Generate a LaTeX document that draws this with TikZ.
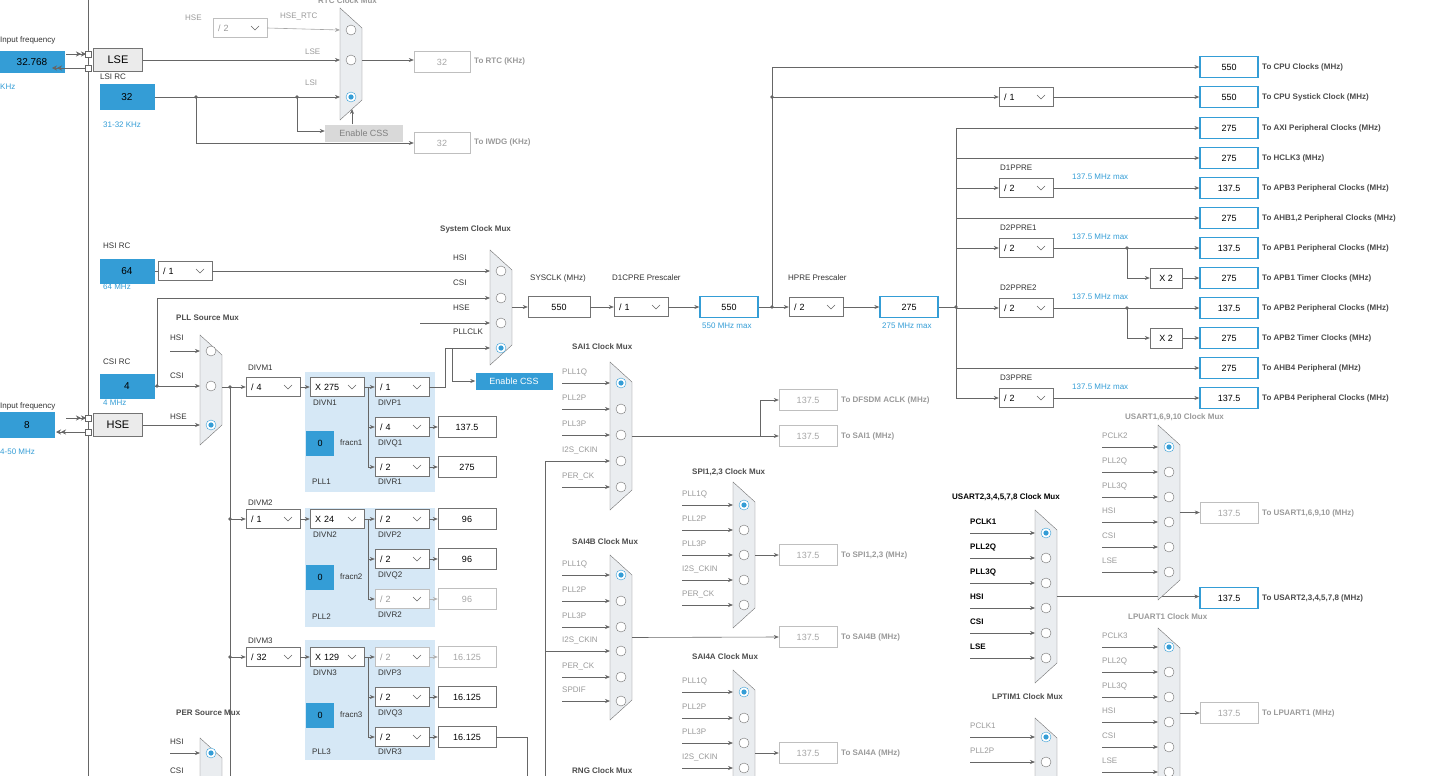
\documentclass[tikz,border=0pt]{standalone}
\usepackage{fontspec}
\setmainfont{Liberation Sans}
\usetikzlibrary{arrows.meta,calc}
\definecolor{stblue}{RGB}{52,157,214}
\definecolor{muxgray}{RGB}{234,237,240}
\definecolor{pllbg}{RGB}{214,232,246}

\tikzset{
  lbl/.style={font=\fontsize{8}{9}\selectfont, inner sep=0pt, anchor=west, text=black!80},
  blbl/.style={lbl, font=\bfseries\fontsize{8}{9}\selectfont, text=black!70},
  dis/.style={text=black!40},
  bltxt/.style={text=stblue},
  val/.style={draw=black!55, fill=white, minimum width=58pt, minimum height=21pt, inner sep=0pt, font=\fontsize{9}{10}\selectfont},
  outv/.style={val, draw=stblue, line width=1.3pt},
  disv/.style={val, draw=black!25, text=black!35},
  inp/.style={fill=stblue, minimum width=55pt, minimum height=25pt, inner sep=0pt, font=\fontsize{10}{11}\selectfont},
  dd/.style={draw=black!55, fill=white, minimum width=54pt, minimum height=19pt, inner sep=0pt, text width=44pt, align=left, font=\fontsize{9}{10}\selectfont,
    path picture={\draw[black!60] ([xshift=-16pt,yshift=2pt]path picture bounding box.east) -- ++(4pt,-4pt) -- ++(4pt,4pt);}},
  ddis/.style={dd, draw=black!25, text=black!40},
  ln/.style={draw=black!60, line width=0.6pt},
  w/.style={ln, -{Stealth[length=5pt,width=4pt]}},
  fr/.style={fill=stblue, minimum width=28pt, minimum height=25pt, inner sep=0pt, font=\fontsize{9}{10}\selectfont},
}

% clock mux: name, x, top, bottom, circle ys, selected
\newcommand\clkmux[6]{%
  \draw[draw=black!55, fill=muxgray] (#2,#3) -- (#2+22,#3+20) -- (#2+22,#4-20) -- (#2,#4) -- cycle;
  \foreach \cy [count=\ci] in {#5}{
    \coordinate (#1-\ci) at (#2,\cy);
    \ifnum\ci=#6
      \draw[stblue, fill=white] (#2+11,\cy) circle (5pt);
      \fill[stblue] (#2+11,\cy) circle (2.6pt);
    \else
      \draw[black!55, fill=white] (#2+11,\cy) circle (5pt);
    \fi}
  \coordinate (#1-out) at (#2+22,{(#3+#4)/2});
}
% mux input: mux, index, offset, label, label style
\newcommand\muxin[5]{%
  \draw[w] ($(#1-#2)+(#3,0)$) -- (#1-#2);
  \node[lbl,#5] at ($(#1-#2)+(#3,-11)$) {#4};
}

\begin{document}
\begin{tikzpicture}[x=1pt,y=-1pt]
\useasboundingbox (0,0) rectangle (1441,776);

\draw[ln] (88,0) -- (88,776);

% LSE / LSI
\node[lbl] at (0,40) {Input frequency};
\node[inp, minimum width=65pt, minimum height=22pt] (lsein) at (32,62) {32.768};
\node[lbl,bltxt] at (0,87) {KHz};
\draw[ln,-{Stealth[length=5pt,width=5pt]Stealth[length=5pt,width=5pt]}] (66,54) -- (86,54);
\draw[ln,-{Stealth[length=5pt,width=5pt]Stealth[length=5pt,width=5pt]}] (85,68) -- (52,68);
\draw[black!60, fill=white] (85,51) rectangle (91,57) (85,65) rectangle (91,71);
\node[val, fill=black!8, minimum width=49pt, minimum height=23pt, font=\fontsize{11}{12}\selectfont] (lse) at (118,60) {LSE};
\node[lbl] at (100,77) {LSI RC};
\node[inp, minimum height=26pt] (lsi) at (127,97) {32};
\node[lbl,bltxt] at (103,125) {31-32 KHz};

% RTC mux
\clkmux{rtc}{340}{8}{120}{30,60,97}{3}
\node[blbl, dis] at (318,1) {RTC Clock Mux};
\node[lbl,dis] at (185,18) {HSE};
\node[ddis] (hsertc) at (240,28) {/ 2};
\node[lbl,dis] at (280,17) {HSE\_RTC};
\draw[w, draw=black!35] (hsertc.east) -- (rtc-1);
\draw[w] (lse.east) -- (rtc-2);
\node[lbl,dis] at (305,52) {LSE};
\draw[w] (lsi.east) -- (rtc-3);
\node[lbl,dis] at (305,83) {LSI};
\node[fill=black!15, text=black!50, minimum width=78pt, minimum height=17pt, inner sep=0pt, font=\fontsize{9}{10}\selectfont] (ecssa) at (364,133) {Enable CSS};
\draw[w] (ecssa.north -| 352,0) -- (352,109);
\coordinate (lsij) at (297,97);
\draw[w] (lsij) -- (297,131) -- (ecssa.west |- 0,131);
\fill[black!60] (lsij) circle (1.8pt) (196,97) circle (1.8pt);
\coordinate (rtco) at (362,60);
\node[disv, minimum width=56pt] (rtcv) at (442,62) {32};
\draw[w] (rtco) -- (rtcv.west |- rtco);
\node[blbl,dis] at (474,61) {To RTC (KHz)};
\node[disv, minimum width=56pt] (iwdgv) at (442,143) {32};
\draw[w] (196,97) -- (196,143) -- (iwdgv.west);
\node[blbl,dis] at (474,142) {To IWDG (KHz)};

% HSE / HSI / CSI
\node[lbl] at (0,406) {Input frequency};
\node[inp, minimum height=26pt] (hsein) at (27,425) {8};
\node[lbl,bltxt] at (0,452) {4-50 MHz};
\draw[ln,-{Stealth[length=5pt,width=5pt]Stealth[length=5pt,width=5pt]}] (66,418) -- (86,418);
\draw[ln,-{Stealth[length=5pt,width=5pt]Stealth[length=5pt,width=5pt]}] (85,432) -- (56,432);
\draw[black!60, fill=white] (85,415) rectangle (91,421) (85,429) rectangle (91,435);
\node[val, fill=black!8, minimum width=49pt, minimum height=23pt, font=\fontsize{11}{12}\selectfont] (hse) at (118,425) {HSE};
\node[lbl] at (103,246) {HSI RC};
\node[inp] (hsi) at (127,271) {64};
\node[lbl,bltxt] at (103,287) {64 MHz};
\node[dd] (hsidiv) at (185,271) {/ 1};
\draw[ln] (hsi.east) -- (hsidiv.west);
\node[lbl] at (103,362) {CSI RC};
\node[inp] (csi) at (127,386) {4};
\node[lbl,bltxt] at (103,403) {4 MHz};

% PLL source mux
\clkmux{pllsrc}{200}{335}{445}{351,386,425}{3}
\node[blbl] at (176,318) {PLL Source Mux};
\draw[w] (170,351) -- (pllsrc-1); \node[lbl] at (170,338) {HSI};
\draw[w] (csi.east) -- (pllsrc-2); \node[lbl] at (170,376) {CSI};
\draw[w] (hse.east) -- (pllsrc-3); \node[lbl] at (170,417) {HSE};

% System clock mux
\clkmux{sys}{490}{250}{365}{271,298,323,348}{4}
\node[blbl] at (440,229) {System Clock Mux};
\draw[w] (hsidiv.east) -- (sys-1); \node[lbl] at (453,258) {HSI};
\draw[w] (157,386) -- (157,298) -- (sys-2); \node[lbl] at (453,283) {CSI};
\draw[w] (420,323) -- (sys-3); \node[lbl] at (453,308) {HSE};
\node[lbl] at (453,332) {PLLCLK};
\fill[black!60] (157,386) circle (1.8pt);

% PLL dividers
\node[dd] (divm1) at (273,387) {/ 4}; \node[lbl] at (248,368) {DIVM1};
\node[dd] (divm2) at (273,519) {/ 1}; \node[lbl] at (248,503) {DIVM2};
\node[dd] (divm3) at (273,657) {/ 32}; \node[lbl] at (248,641) {DIVM3};
\draw[w] (pllsrc-out |- divm1) -- (divm1.west);
\draw[ln] (230,387) -- (230,776);
\draw[w] (230,519) -- (divm2.west);
\draw[w] (230,657) -- (divm3.west);
\fill[black!60] (230,387) circle (1.8pt) (230,519) circle (1.8pt) (230,657) circle (1.8pt);

% PLL1
\fill[pllbg] (305,372) rectangle (435,492);
\node[dd] (divn1) at (337,387) {X 275}; \node[lbl] at (313,403) {DIVN1};
\node[dd] (divp1) at (402,387) {/ 1}; \node[lbl] at (378,403) {DIVP1};
\node[dd] (divq1) at (402,427) {/ 4}; \node[lbl] at (378,443) {DIVQ1};
\node[dd] (divr1) at (402,467) {/ 2}; \node[lbl] at (378,482) {DIVR1};
\node[fr] at (320,443) {0}; \node[lbl] at (340,443) {fracn1};
\node[lbl] at (312,482) {PLL1};
\node[val] (q1v) at (467,427) {137.5};
\node[val] (r1v) at (467,467) {275};
\draw[w] (divm1.east) -- (divn1.west);
\draw[w] (divn1.east) -- (divp1.west);
\draw[w] (368,387) -- (368,427) -- (divq1.west);
\draw[w] (368,427) -- (368,467) -- (divr1.west);
\draw[w] (divq1.east) -- (q1v.west);
\draw[w] (divr1.east) -- (r1v.west);
\draw[w] (divp1.east) -- (445,387) -- (445,348) -- (sys-4);
\node[fill=stblue, text=white, minimum width=77pt, minimum height=17pt, inner sep=0pt, font=\fontsize{9}{10}\selectfont] (ecssb) at (514,381) {Enable CSS};
\draw[w] (452,348) -- (452,381) -- (ecssb.west);

% PLL2
\fill[pllbg] (305,508) rectangle (435,627);
\node[dd] (divn2) at (337,519) {X 24}; \node[lbl] at (313,535) {DIVN2};
\node[dd] (divp2) at (402,519) {/ 2}; \node[lbl] at (378,535) {DIVP2};
\node[dd] (divq2) at (402,559) {/ 2}; \node[lbl] at (378,575) {DIVQ2};
\node[ddis] (divr2) at (402,599) {/ 2}; \node[lbl] at (378,615) {DIVR2};
\node[fr] at (320,577) {0}; \node[lbl] at (340,577) {fracn2};
\node[lbl] at (312,617) {PLL2};
\node[val] (p2v) at (467,519) {96};
\node[val] (q2v) at (467,559) {96};
\node[disv] (r2v) at (467,599) {96};
\draw[w] (divm2.east) -- (divn2.west);
\draw[w] (divn2.east) -- (divp2.west);
\draw[w] (368,519) -- (368,559) -- (divq2.west);
\draw[w] (368,559) -- (368,599) -- (divr2.west);
\draw[w] (divp2.east) -- (p2v.west);
\draw[w] (divq2.east) -- (q2v.west);
\draw[w, draw=black!30] (divr2.east) -- (r2v.west);

% PLL3
\fill[pllbg] (305,640) rectangle (435,760);
\node[dd] (divn3) at (337,657) {X 129}; \node[lbl] at (313,673) {DIVN3};
\node[ddis] (divp3) at (402,657) {/ 2}; \node[lbl] at (378,673) {DIVP3};
\node[dd] (divq3) at (402,697) {/ 2}; \node[lbl] at (378,713) {DIVQ3};
\node[dd] (divr3) at (402,737) {/ 2}; \node[lbl] at (378,752) {DIVR3};
\node[fr] at (320,715) {0}; \node[lbl] at (340,715) {fracn3};
\node[lbl] at (312,752) {PLL3};
\node[disv] (p3v) at (467,657) {16.125};
\node[val] (q3v) at (467,697) {16.125};
\node[val] (r3v) at (467,737) {16.125};
\draw[w] (divm3.east) -- (divn3.west);
\draw[w] (divn3.east) -- (divp3.west);
\draw[w] (368,657) -- (368,697) -- (divq3.west);
\draw[w] (368,697) -- (368,737) -- (divr3.west);
\draw[w, draw=black!30] (divp3.east) -- (p3v.west);
\draw[w] (divq3.east) -- (q3v.west);
\draw[w] (divr3.east) -- (r3v.west);
\draw[ln] (r3v.east) -- (527,737) -- (527,776);

% PER source mux
\clkmux{persrc}{200}{738}{860}{753,782}{1}
\node[blbl] at (176,713) {PER Source Mux};
\muxin{persrc}{1}{-30}{HSI}{}
\muxin{persrc}{2}{-30}{CSI}{}

% system clock path
\node[val, minimum width=62pt] (sysclk) at (559,307) {550};
\node[lbl] at (530,278) {SYSCLK (MHz)};
\node[dd] (d1cpre) at (641,307) {/ 1};
\node[lbl] at (612,278) {D1CPRE Prescaler};
\node[outv] (cpuv) at (729,307) {550};
\node[lbl,bltxt] at (702,326) {550 MHz max};
\node[dd] (hpre) at (816,307) {/ 2};
\node[lbl] at (788,278) {HPRE Prescaler};
\node[outv] (hclkv) at (909,307) {275};
\node[lbl,bltxt] at (882,326) {275 MHz max};
\draw[w] (sys-out |- sysclk) -- (sysclk.west);
\draw[w] (sysclk.east) -- (d1cpre.west);
\draw[w] (d1cpre.east) -- (cpuv.west);
\draw[w] (cpuv.east) -- (hpre.west);
\draw[w] (hpre.east) -- (hclkv.west);

% right outputs
\foreach \y/\v/\t in {67/550/{To CPU Clocks (MHz)}, 97/550/{To CPU Systick Clock (MHz)},
  128/275/{To AXI Peripheral Clocks (MHz)}, 158/275/{To HCLK3 (MHz)},
  188/137.5/{To APB3 Peripheral Clocks (MHz)}, 218/275/{To AHB1,2 Peripheral Clocks (MHz)},
  248/137.5/{To APB1 Peripheral Clocks (MHz)}, 278/275/{To APB1 Timer Clocks (MHz)},
  308/137.5/{To APB2 Peripheral Clocks (MHz)}, 338/275/{To APB2 Timer Clocks (MHz)},
  368/275/{To AHB4 Peripheral (MHz)}, 398/137.5/{To APB4 Peripheral Clocks (MHz)}}{
  \node[outv] (o\y) at (1229,\y) {\v};
  \node[blbl] at (1262,\y) {\t};
}
\foreach \y/\d/\n in {97/1/{}, 188/2/D1PPRE, 248/2/D2PPRE1, 308/2/D2PPRE2, 398/2/D3PPRE}{
  \node[dd] (p\y) at (1026,\y) {/ \d};
  \node[lbl] at (1000,\y-20) {\n};
  \draw[w] (p\y.east) -- (o\y.west);
}
\foreach \y in {188,248,308,398}
  \node[lbl,bltxt] at (1072,\y-11) {137.5 MHz max};
\draw[ln] (hclkv.east) -- (956,307);
\draw[ln] (772,307) -- (772,67);
\draw[w] (772,67) -- (o67.west);
\draw[w] (772,97) -- (p97.west);
\fill[black!60] (772,307) circle (1.8pt) (772,97) circle (1.8pt) (956,307) circle (1.8pt);
\draw[ln] (956,128) -- (956,398);
\foreach \y in {128,158,218,368}
  \draw[w] (956,\y) -- (o\y.west);
\foreach \y in {188,248,308,398}
  \draw[w] (956,\y) -- (p\y.west);
\node[val, minimum width=32pt, minimum height=20pt] (x2a) at (1166,278) {X 2};
\node[val, minimum width=32pt, minimum height=20pt] (x2b) at (1166,338) {X 2};
\draw[w] (1127,248) -- (1127,278) -- (x2a.west);
\draw[w] (1127,308) -- (1127,338) -- (x2b.west);
\draw[w] (x2a.east) -- (o278.west);
\draw[w] (x2b.east) -- (o338.west);
\fill[black!60] (1127,248) circle (1.8pt) (1127,308) circle (1.8pt);

% SAI1
\clkmux{saia}{610}{362}{510}{383,409,435,461,487}{1}
\node[blbl] at (572,347) {SAI1 Clock Mux};
\muxin{saia}{1}{-48}{PLL1Q}{dis}
\muxin{saia}{2}{-48}{PLL2P}{dis}
\muxin{saia}{3}{-48}{PLL3P}{dis}
\muxin{saia}{4}{-48}{I2S\_CKIN}{dis}
\muxin{saia}{5}{-48}{PER\_CK}{dis}
\node[disv] (dfsdm) at (808,400) {137.5};
\node[disv] (sai1v) at (808,436) {137.5};
\draw[ln] (saia-out) -- (760,436) -- (760,400);
\draw[w] (760,400) -- (dfsdm.west);
\draw[w] (760,436) -- (sai1v.west);
\node[blbl,dis] at (841,400) {To DFSDM ACLK (MHz)};
\node[blbl,dis] at (841,436) {To SAI1 (MHz)};
\draw[ln] (545,461) -- (545,776) (545,461) -- (562,461) (545,651) -- (562,651);

% SPI
\clkmux{spi}{733}{482}{628}{505,530,555,580,605}{1}
\node[blbl] at (692,472) {SPI1,2,3 Clock Mux};
\muxin{spi}{1}{-51}{PLL1Q}{dis}
\muxin{spi}{2}{-51}{PLL2P}{dis}
\muxin{spi}{3}{-51}{PLL3P}{dis}
\muxin{spi}{4}{-51}{I2S\_CKIN}{dis}
\muxin{spi}{5}{-51}{PER\_CK}{dis}
\node[disv] (spiv) at (808,555) {137.5};
\draw[w] (spi-out) -- (spiv.west);
\node[blbl,dis] at (841,555) {To SPI1,2,3 (MHz)};

% SAI4B
\clkmux{saib}{610}{555}{720}{575,601,627,651,677,701}{1}
\node[blbl] at (572,542) {SAI4B Clock Mux};
\muxin{saib}{1}{-48}{PLL1Q}{dis}
\muxin{saib}{2}{-48}{PLL2P}{dis}
\muxin{saib}{3}{-48}{PLL3P}{dis}
\muxin{saib}{4}{-48}{I2S\_CKIN}{dis}
\muxin{saib}{5}{-48}{PER\_CK}{dis}
\muxin{saib}{6}{-48}{SPDIF}{dis}
\node[disv] (sai4bv) at (808,637) {137.5};
\draw[w] (saib-out) -- (sai4bv.west);
\node[blbl,dis] at (841,637) {To SAI4B (MHz)};

% SAI4A
\clkmux{saic}{733}{670}{836}{692,718,743,768}{1}
\node[blbl] at (692,657) {SAI4A Clock Mux};
\muxin{saic}{1}{-51}{PLL1Q}{dis}
\muxin{saic}{2}{-51}{PLL2P}{dis}
\muxin{saic}{3}{-51}{PLL3P}{dis}
\muxin{saic}{4}{-51}{I2S\_CKIN}{dis}
\node[disv] (sai4av) at (808,753) {137.5};
\draw[w] (saic-out) -- (sai4av.west);
\node[blbl,dis] at (841,753) {To SAI4A (MHz)};
\node[blbl] at (572,771) {RNG Clock Mux};

% USART2,3,4,5,7,8
\clkmux{usb}{1035}{510}{683}{533,558,583,608,633,658}{1}
\node[blbl, text=black] at (952,497) {USART2,3,4,5,7,8 Clock Mux};
\foreach \i/\s in {1/PCLK1,2/PLL2Q,3/PLL3Q,4/HSI,5/CSI,6/LSE}{
  \muxin{usb}{\i}{-65}{\s}{font=\bfseries\fontsize{8}{9}\selectfont, text=black}}
\node[outv] (usbv) at (1229,598) {137.5};
\draw[w] (usb-out) -- (usbv.west |- usb-out);
\node[blbl] at (1262,598) {To USART2,3,4,5,7,8 (MHz)};

% USART1,6,9,10
\clkmux{usa}{1158}{425}{600}{447,472,497,522,547,572}{1}
\node[blbl,dis] at (1125,417) {USART1,6,9,10 Clock Mux};
\foreach \i/\s in {1/PCLK2,2/PLL2Q,3/PLL3Q,4/HSI,5/CSI,6/LSE}{
  \muxin{usa}{\i}{-56}{\s}{dis}}
\node[disv] (usav) at (1229,513) {137.5};
\draw[w] (usa-out) -- (usav.west |- usa-out);
\node[blbl,dis] at (1262,513) {To USART1,6,9,10 (MHz)};

% LPUART1
\clkmux{lpu}{1158}{628}{798}{647,672,697,722,747,772}{1}
\node[blbl,dis] at (1128,617) {LPUART1 Clock Mux};
\foreach \i/\s in {1/PCLK3,2/PLL2Q,3/PLL3Q,4/HSI,5/CSI,6/LSE}{
  \muxin{lpu}{\i}{-56}{\s}{dis}}
\node[disv] (lpuv) at (1229,713) {137.5};
\draw[w] (lpu-out) -- (lpuv.west |- lpu-out);
\node[blbl,dis] at (1262,713) {To LPUART1 (MHz)};

% LPTIM1
\clkmux{lpt}{1035}{718}{880}{737,762,787}{1}
\node[blbl] at (992,697) {LPTIM1 Clock Mux};
\foreach \i/\s in {1/PCLK1,2/PLL2P}{
  \muxin{lpt}{\i}{-65}{\s}{dis}}
\draw[w] ($(lpt-3)+(-65,0)$) -- (lpt-3);

\end{tikzpicture}
\end{document}
